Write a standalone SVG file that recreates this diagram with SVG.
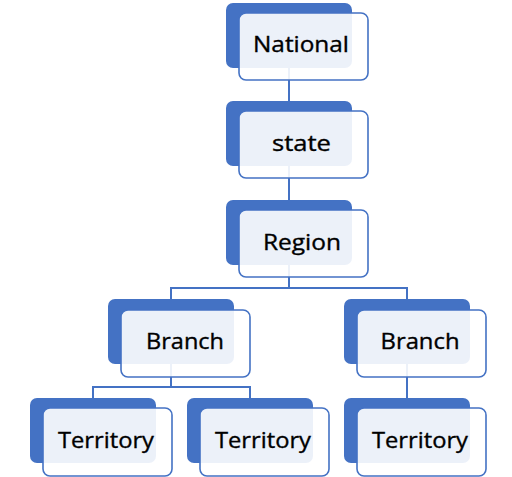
<svg xmlns="http://www.w3.org/2000/svg" width="512" height="477" viewBox="0 0 512 477">
<style>
.bg{fill:#4472C4}
.fg{fill:#ffffff;fill-opacity:0.9;stroke:#4472C4;stroke-width:1.6}
.lbl{font-family:"Open Sans","Liberation Sans",sans-serif;font-size:21px;fill:#000000;stroke:#000000;stroke-width:0.35;text-anchor:middle}
.conn{fill:none;stroke:#4472C4;stroke-width:2}
</style>
<rect width="512" height="477" fill="#ffffff"/>
<g id="connectors" class="conn">
<path d="M289 67V102"/>
<path d="M289 166V200"/>
<path d="M289 265V288M171 299V288H407V299"/>
<path d="M171 364V387M93 398V387H250V398"/>
<path d="M407 364V398"/>
</g>
<g id="national">
<rect class="bg" x="226" y="3" width="126" height="65" rx="7"/>
<rect class="fg" x="239" y="13" width="129" height="67" rx="7"/>
<text class="lbl" x="301" y="52" textLength="96" lengthAdjust="spacingAndGlyphs">National</text>
</g>
<g id="state">
<rect class="bg" x="226" y="101" width="126" height="65" rx="7"/>
<rect class="fg" x="239" y="111" width="129" height="67" rx="7"/>
<text class="lbl" x="301.5" y="151" textLength="59" lengthAdjust="spacingAndGlyphs">state</text>
</g>
<g id="region">
<rect class="bg" x="226" y="200" width="126" height="65" rx="7"/>
<rect class="fg" x="239" y="210" width="129" height="67" rx="7"/>
<text class="lbl" x="302" y="250" textLength="78" lengthAdjust="spacingAndGlyphs">Region</text>
</g>
<g id="branch-left">
<rect class="bg" x="108" y="299" width="126" height="65" rx="7"/>
<rect class="fg" x="121" y="310" width="129" height="67" rx="7"/>
<text class="lbl" x="185" y="349" textLength="78" lengthAdjust="spacingAndGlyphs">Branch</text>
</g>
<g id="branch-right">
<rect class="bg" x="344" y="299" width="126" height="65" rx="7"/>
<rect class="fg" x="357" y="310" width="129" height="67" rx="7"/>
<text class="lbl" x="420" y="349" textLength="79" lengthAdjust="spacingAndGlyphs">Branch</text>
</g>
<g id="territory-1">
<rect class="bg" x="30" y="398" width="126" height="65" rx="7"/>
<rect class="fg" x="43" y="408" width="129" height="68" rx="7"/>
<text class="lbl" x="106" y="448" textLength="96" lengthAdjust="spacingAndGlyphs">Territory</text>
</g>
<g id="territory-2">
<rect class="bg" x="187" y="398" width="126" height="65" rx="7"/>
<rect class="fg" x="200" y="408" width="129" height="68" rx="7"/>
<text class="lbl" x="263" y="448" textLength="96" lengthAdjust="spacingAndGlyphs">Territory</text>
</g>
<g id="territory-3">
<rect class="bg" x="344" y="398" width="126" height="65" rx="7"/>
<rect class="fg" x="357" y="408" width="129" height="68" rx="7"/>
<text class="lbl" x="420" y="448" textLength="96" lengthAdjust="spacingAndGlyphs">Territory</text>
</g>
</svg>
